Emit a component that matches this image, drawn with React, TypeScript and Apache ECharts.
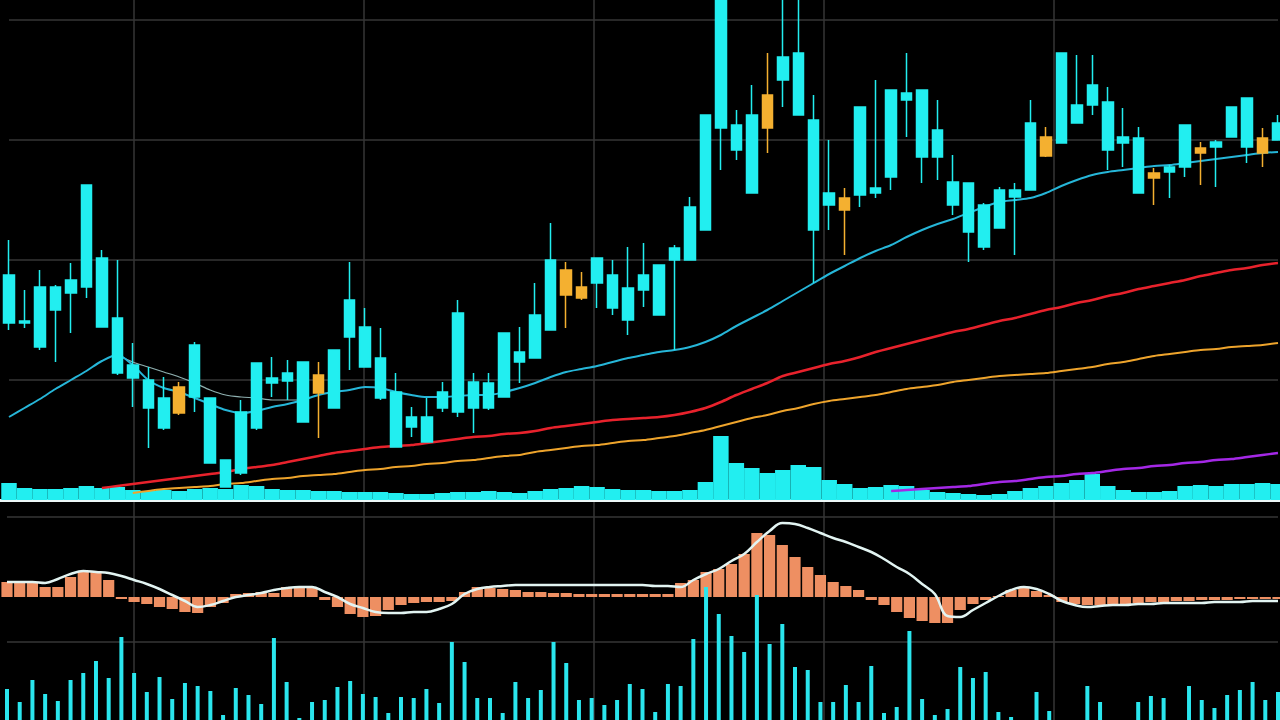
import React, { useEffect, useRef } from "react";
import * as echarts from "echarts";

// ---------- main panel: candles [open, close, low, high] ----------
const ohlc: number[][] = [
  [17.7, 22.5, 17.0, 26.0], [17.7, 17.9, 17.2, 21.0], [15.3, 21.3, 15.0, 23.0], [19.0, 21.3, 13.8, 21.5],
  [20.7, 22.0, 16.7, 23.7], [21.3, 31.5, 20.2, 31.5], [17.3, 24.2, 17.3, 25.0], [12.7, 18.2, 12.5, 24.0],
  [12.2, 13.5, 9.3, 15.7], [9.2, 12.0, 5.2, 13.3], [7.2, 10.2, 7.0, 12.3], [11.3, 8.7, 8.5, 11.8],
  [10.3, 15.5, 8.8, 15.8], [3.7, 10.2, 3.7, 10.2], [1.3, 4.0, 1.3, 4.0], [2.7, 8.8, 2.5, 10.0],
  [7.2, 13.7, 7.0, 13.7], [11.7, 12.2, 10.3, 14.3], [11.9, 12.7, 10.0, 14.0], [7.8, 13.8, 7.8, 13.8],
  [12.5, 10.7, 6.2, 13.8], [9.2, 15.0, 9.2, 15.0], [16.3, 20.0, 13.0, 23.8], [13.3, 17.3, 13.3, 19.2],
  [10.2, 14.2, 10.0, 17.2], [5.3, 10.8, 5.3, 12.7], [7.3, 8.3, 6.3, 9.3], [5.8, 8.3, 5.8, 10.2],
  [9.2, 10.8, 8.8, 11.8], [8.8, 18.7, 8.3, 20.0], [9.2, 11.8, 6.7, 12.7], [9.2, 11.7, 9.0, 12.7],
  [10.3, 16.7, 10.3, 16.7], [13.8, 14.8, 11.7, 17.3], [14.2, 18.5, 14.2, 21.7], [17.0, 24.0, 17.0, 27.7],
  [23.0, 20.5, 17.2, 23.8], [21.3, 20.2, 20.0, 22.8], [21.7, 24.2, 19.2, 24.2], [19.2, 22.5, 18.5, 24.0],
  [18.0, 21.2, 16.5, 25.3], [21.0, 22.5, 19.3, 25.7], [18.5, 23.5, 18.5, 23.5], [24.0, 25.2, 15.0, 25.5],
  [24.0, 29.3, 24.0, 30.3], [27.0, 38.5, 27.0, 38.5], [37.2, 51.0, 33.0, 52.0], [35.0, 37.5, 34.0, 39.0],
  [30.7, 38.5, 30.7, 41.5], [40.5, 37.2, 34.7, 44.7], [42.0, 44.3, 39.3, 51.0], [38.5, 44.7, 38.5, 51.0],
  [27.0, 38.0, 21.7, 40.5], [29.5, 30.7, 27.0, 36.0], [30.2, 29.0, 24.5, 31.2], [30.5, 39.3, 29.3, 39.3],
  [30.7, 31.2, 30.2, 42.0], [32.3, 41.0, 31.0, 41.0], [40.0, 40.7, 36.3, 44.7], [34.3, 41.0, 31.7, 41.0],
  [34.3, 37.0, 32.0, 40.0], [29.5, 31.8, 28.5, 34.5], [26.8, 31.7, 23.8, 31.7], [25.3, 29.5, 25.0, 29.7],
  [27.2, 31.0, 27.2, 31.3], [30.3, 31.0, 24.5, 31.7], [31.0, 37.7, 31.0, 40.0], [36.3, 34.4, 34.3, 37.3],
  [35.7, 44.7, 35.7, 44.7], [37.7, 39.5, 37.7, 44.5], [39.5, 41.5, 38.5, 44.5], [35.0, 39.8, 33.0, 41.3],
  [35.7, 36.3, 33.3, 39.2], [30.7, 36.2, 30.7, 37.3], [32.7, 32.2, 29.5, 33.2], [32.8, 33.3, 30.2, 33.5],
  [33.3, 37.5, 32.3, 37.5], [35.2, 34.7, 31.5, 35.8], [35.3, 35.8, 31.3, 36.0], [36.3, 39.3, 36.3, 39.3],
  [35.3, 40.2, 33.7, 40.2], [36.2, 34.7, 33.3, 37.2], [36.0, 37.7, 36.0, 38.5],
];

const candleDays = ohlc.map((_, i) => `D${i + 1}`);

const maCyan = [
  8.3, 9.2, 10.1, 11.1, 12.0, 12.9, 13.9, 14.5, 13.5, 12.0,
  11.2, 10.8, 10.2, 9.6, 9.0, 8.7, 8.9, 9.3, 9.6, 10.0,
  10.5, 10.8, 11.0, 11.3, 11.2, 10.8, 10.5, 10.3, 10.3, 10.4,
  10.5, 10.5, 10.8, 11.2, 11.7, 12.3, 12.8, 13.1, 13.4, 13.8,
  14.2, 14.5, 14.8, 15.0, 15.3, 15.8, 16.5, 17.4, 18.2, 19.0,
  19.9, 20.8, 21.7, 22.6, 23.4, 24.2, 24.9, 25.5, 26.3, 27.0,
  27.6, 28.1, 28.7, 29.3, 29.8, 30.0, 30.2, 30.7, 31.4, 32.0,
  32.5, 32.8, 33.0, 33.2, 33.4, 33.5, 33.7, 33.9, 34.1, 34.3,
  34.5, 34.7, 34.8,
];

const maGrey = [
  null, null, null, null, null, null, null, 14.5, 13.8, 13.3,
  12.8, 12.3, 11.7, 11.0, 10.5, 10.3, 10.2, 10.0, 10.0, 10.0,
];

const maRed = [
  null, null, null, null, null, null, 1.2, 1.4, 1.6, 1.8,
  2.0, 2.2, 2.4, 2.6, 2.8, 3.1, 3.3, 3.5, 3.8, 4.1,
  4.4, 4.7, 4.9, 5.1, 5.3, 5.4, 5.5, 5.7, 5.9, 6.1,
  6.3, 6.4, 6.6, 6.7, 6.9, 7.2, 7.4, 7.6, 7.8, 8.0,
  8.1, 8.2, 8.3, 8.5, 8.8, 9.2, 9.8, 10.5, 11.1, 11.7,
  12.4, 12.8, 13.2, 13.6, 13.9, 14.3, 14.8, 15.2, 15.6, 16.0,
  16.4, 16.8, 17.1, 17.5, 17.9, 18.2, 18.6, 19.0, 19.3, 19.7,
  20.0, 20.4, 20.7, 21.1, 21.4, 21.7, 22.0, 22.4, 22.7, 23.0,
  23.2, 23.5, 23.7,
];

const maOrange = [
  null, null, null, null, null, null, null, null, 0.7, 0.9,
  1.1, 1.2, 1.3, 1.4, 1.6, 1.7, 1.9, 2.1, 2.2, 2.4,
  2.5, 2.6, 2.8, 3.0, 3.1, 3.3, 3.4, 3.6, 3.7, 3.9,
  4.0, 4.2, 4.4, 4.5, 4.8, 5.0, 5.2, 5.4, 5.5, 5.7,
  5.9, 6.0, 6.2, 6.4, 6.7, 7.0, 7.4, 7.8, 8.2, 8.5,
  8.9, 9.2, 9.6, 9.9, 10.1, 10.3, 10.5, 10.8, 11.1, 11.3,
  11.5, 11.8, 12.0, 12.2, 12.4, 12.5, 12.6, 12.7, 12.9, 13.1,
  13.3, 13.6, 13.8, 14.1, 14.4, 14.6, 14.8, 15.0, 15.1, 15.3,
  15.4, 15.5, 15.7,
];

const maPurple = [
  null, null, null, null, null, null, null, null, null, null,
  null, null, null, null, null, null, null, null, null, null,
  null, null, null, null, null, null, null, null, null, null,
  null, null, null, null, null, null, null, null, null, null,
  null, null, null, null, null, null, null, null, null, null,
  null, null, null, null, null, null, null, 0.9, 1.0, 1.1,
  1.2, 1.3, 1.4, 1.6, 1.8, 1.9, 2.1, 2.3, 2.4, 2.6,
  2.7, 2.9, 3.1, 3.2, 3.4, 3.5, 3.7, 3.8, 4.0, 4.1,
  4.3, 4.5, 4.7,
];

const volume = [
  17, 12, 11, 11, 12, 14, 12, 13, 10, 9,
  10, 9, 11, 12, 11, 15, 14, 11, 10, 10,
  9, 9, 8, 8, 8, 7, 6, 6, 7, 8,
  8, 9, 8, 7, 9, 11, 12, 14, 13, 11,
  10, 10, 9, 9, 10, 18, 64, 37, 32, 27,
  30, 35, 33, 20, 16, 12, 13, 15, 14, 10,
  8, 7, 6, 5, 6, 9, 12, 14, 17, 20,
  26, 14, 10, 8, 8, 9, 14, 15, 14, 16,
  16, 17, 16,
];

// ---------- lower panel (MACD + bars) ----------
const macdHist = [
  0.15, 0.15, 0.15, 0.10, 0.10, 0.20, 0.25, 0.25, 0.17, -0.02,
  -0.05, -0.07, -0.10, -0.12, -0.15, -0.16, -0.10, -0.06, 0.03, 0.04,
  0.05, 0.04, 0.10, 0.10, 0.09, -0.03, -0.10, -0.17, -0.20, -0.19,
  -0.13, -0.08, -0.06, -0.05, -0.05, -0.04, 0.05, 0.10, 0.09, 0.08,
  0.07, 0.05, 0.05, 0.04, 0.04, 0.03, 0.03, 0.03, 0.03, 0.03,
  0.03, 0.03, 0.03, 0.14, 0.17, 0.25, 0.28, 0.33, 0.43, 0.64,
  0.62, 0.52, 0.40, 0.30, 0.22, 0.15, 0.11, 0.07, -0.03, -0.08,
  -0.15, -0.21, -0.24, -0.26, -0.26, -0.13, -0.07, -0.03, 0.01, 0.07,
  0.09, 0.06, 0.02, -0.05, -0.07, -0.08, -0.08, -0.07, -0.07, -0.06,
  -0.05, -0.05, -0.04, -0.04, -0.03, -0.03, -0.03, -0.02, -0.02, -0.02, -0.02,
];

const macdDif = [
  0.15, 0.15, 0.15, 0.14, 0.18, 0.23, 0.26, 0.25, 0.24, 0.21,
  0.17, 0.13, 0.08, 0.02, -0.04, -0.10, -0.08, -0.04, 0.00, 0.02,
  0.04, 0.07, 0.09, 0.10, 0.10, 0.05, 0.00, -0.07, -0.11, -0.15,
  -0.16, -0.16, -0.15, -0.15, -0.12, -0.07, 0.03, 0.08, 0.10, 0.11,
  0.12, 0.12, 0.12, 0.12, 0.12, 0.12, 0.12, 0.12, 0.12, 0.12,
  0.12, 0.11, 0.11, 0.10, 0.17, 0.23, 0.28, 0.36, 0.43, 0.55,
  0.66, 0.74, 0.73, 0.69, 0.64, 0.59, 0.55, 0.50, 0.45, 0.38,
  0.30, 0.23, 0.13, 0.03, -0.19, -0.20, -0.13, -0.06, 0.01, 0.07,
  0.10, 0.08, 0.03, -0.04, -0.08, -0.10, -0.09, -0.08, -0.08, -0.07,
  -0.07, -0.06, -0.06, -0.06, -0.06, -0.05, -0.05, -0.05, -0.04, -0.04, -0.04,
];

const lowerBars = [
  31, 18, 40, 26, 19, 40, 47, 59, 42, 83,
  47, 28, 43, 21, 37, 34, 29, 5, 32, 25,
  16, 82, 38, 2, 18, 20, 33, 39, 26, 23,
  7, 23, 22, 31, 17, 78, 58, 22, 22, 7,
  38, 22, 30, 78, 57, 20, 22, 15, 20, 36,
  31, 8, 36, 34, 81, 133, 106, 84, 68, 125,
  76, 96, 53, 50, 18, 18, 35, 18, 54, 7,
  13, 89, 21, 5, 11, 53, 42, 48, 8, 3,
  0, 28, 9, 0, 0, 34, 18, 0, 0, 18,
  24, 22, 0, 34, 20, 12, 25, 30, 38, 20, 28,
];

const lowerDays = macdHist.map((_, i) => `T${i + 1}`);

const GRID_COLOR = "#363636";
const NONE = "rgba(0,0,0,0)";
const CYAN = "#22eef0";
const GOLD = "#f4b030";

export default function App() {
  const ref = useRef<HTMLDivElement>(null);

  useEffect(() => {
    document.body.style.margin = "0";
    const chart = echarts.init(ref.current!, null, { renderer: "svg" });
    const hiddenAxis = { show: false };
    const bare = { axisLine: { show: false }, axisTick: { show: false }, axisLabel: { show: false } };
    const option: any = {
      animation: false,
      backgroundColor: "#000000",
      grid: [
        { left: 9, top: 0, width: 1269, height: 500 },       // 0 main candles
        { left: 7, top: 517, width: 1271, bottom: 0 },       // 1 MACD
        { left: 7, top: 500, width: 1271, bottom: 0 },       // 2 lower bars
        { left: 133.5, top: 0, right: 0, bottom: 0 },        // 3 vertical grid lines
        { left: 0, top: 0, right: 0, height: 500 },          // 4 separator line
      ],
      xAxis: [
        { type: "category", gridIndex: 0, data: candleDays, boundaryGap: false, ...hiddenAxis },
        { type: "category", gridIndex: 1, data: lowerDays, boundaryGap: false, ...hiddenAxis },
        { type: "category", gridIndex: 2, data: lowerDays, boundaryGap: false, ...hiddenAxis },
        {
          type: "value", gridIndex: 3, min: 0, max: (1280 - 133.5) / 230, interval: 1, ...bare,
          splitLine: { show: true, lineStyle: { color: [GRID_COLOR, GRID_COLOR, GRID_COLOR, GRID_COLOR, GRID_COLOR, NONE], width: 1.5 } },
        },
        {
          type: "value", gridIndex: 4, min: 0, max: 1,
          axisLine: { show: true, onZero: false, lineStyle: { color: "#eef8f8", width: 3 } },
          axisTick: { show: false }, axisLabel: { show: false }, splitLine: { show: false },
        },
      ],
      yAxis: [
        {
          type: "value", gridIndex: 0, min: 0, max: 50, interval: 12, ...bare,
          splitLine: { show: true, lineStyle: { color: [GRID_COLOR, GRID_COLOR, GRID_COLOR, GRID_COLOR, GRID_COLOR, NONE], width: 1.5 } },
        },
        { type: "value", gridIndex: 0, min: 0, max: 500, ...hiddenAxis },
        { type: "value", gridIndex: 1, min: -1.23, max: 0.8, ...hiddenAxis },
        {
          type: "value", gridIndex: 1, min: 0, max: 1.624, interval: 1, inverse: true, ...bare,
          splitLine: { show: true, lineStyle: { color: [GRID_COLOR, GRID_COLOR, NONE], width: 1.5 } },
        },
        { type: "value", gridIndex: 2, min: 0, max: 220, ...hiddenAxis },
        { type: "value", gridIndex: 3, min: 0, max: 1, ...hiddenAxis },
        { type: "value", gridIndex: 4, min: 0, max: 1, ...hiddenAxis },
      ],
      series: [
        { name: "vgrid", type: "line", xAxisIndex: 3, yAxisIndex: 5, data: [], silent: true },
        { name: "sep", type: "line", xAxisIndex: 4, yAxisIndex: 6, data: [], silent: true },
        {
          name: "Volume", type: "bar", xAxisIndex: 0, yAxisIndex: 1, data: volume, clip: false,
          barCategoryGap: "0%", itemStyle: { color: CYAN }, z: 1, silent: true,
        },
        {
          name: "MA120", type: "line", xAxisIndex: 0, yAxisIndex: 0, data: maPurple,
          showSymbol: false, symbol: "none", smooth: 0.3, z: 3,
          lineStyle: { color: "#a428e6", width: 2.5 },
        },
        {
          name: "MA60", type: "line", xAxisIndex: 0, yAxisIndex: 0, data: maOrange,
          showSymbol: false, symbol: "none", smooth: 0.3, z: 3,
          lineStyle: { color: "#eea42c", width: 2 },
        },
        {
          name: "MA30", type: "line", xAxisIndex: 0, yAxisIndex: 0, data: maRed,
          showSymbol: false, symbol: "none", smooth: 0.3, z: 3,
          lineStyle: { color: "#e8222c", width: 2.5 },
        },
        {
          name: "MA10", type: "line", xAxisIndex: 0, yAxisIndex: 0, data: maGrey,
          showSymbol: false, symbol: "none", smooth: 0.3, z: 3,
          lineStyle: { color: "#8fb0b0", width: 1.2 },
        },
        {
          name: "MA20", type: "line", xAxisIndex: 0, yAxisIndex: 0, data: maCyan,
          showSymbol: false, symbol: "none", smooth: 0.3, z: 3,
          lineStyle: { color: "#26b6d8", width: 2 },
        },
        {
          name: "K", type: "candlestick", xAxisIndex: 0, yAxisIndex: 0, data: ohlc,
          barWidth: 11, clip: false, z: 4,
          itemStyle: { color: CYAN, color0: GOLD, borderColor: CYAN, borderColor0: GOLD, borderWidth: 1.5 },
        },
        {
          name: "MACD", type: "bar", xAxisIndex: 1, yAxisIndex: 2, data: macdHist, clip: false,
          barCategoryGap: "12%", itemStyle: { color: "#ee8f62" }, z: 2,
        },
        {
          name: "DIF", type: "line", xAxisIndex: 1, yAxisIndex: 2, data: macdDif,
          showSymbol: false, symbol: "none", smooth: 0.4, z: 3,
          lineStyle: { color: "#e2f4f2", width: 2.5 },
        },
        {
          name: "Bars", type: "bar", xAxisIndex: 2, yAxisIndex: 4, data: lowerBars, clip: false,
          barWidth: 4, itemStyle: { color: "#2ae6ee" }, z: 4,
        },
      ],
    };
    chart.setOption(option);
    return () => chart.dispose();
  }, []);

  return (
    <div
      ref={ref}
      style={{ position: "fixed", left: 0, top: 0, width: 1280, height: 720, background: "#000" }}
    />
  );
}
